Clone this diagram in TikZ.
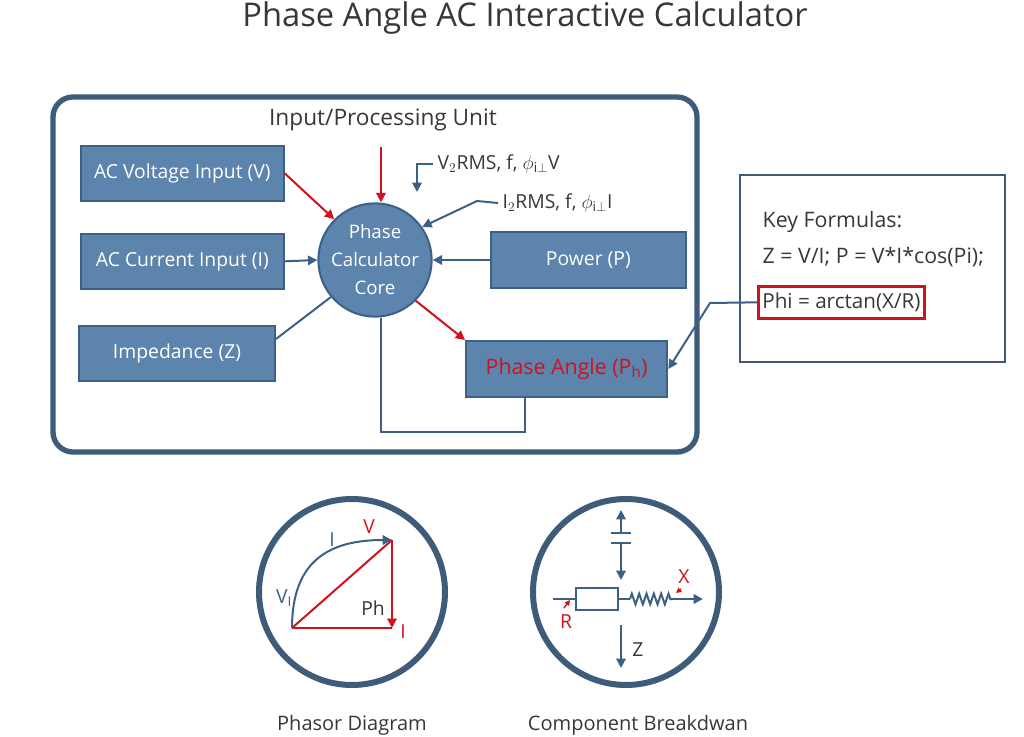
\documentclass[tikz,border=0pt]{standalone}
\usepackage{fontspec}
\setmainfont{Open Sans}
\usetikzlibrary{arrows.meta, positioning, decorations.pathmorphing}
\definecolor{framedark}{RGB}{62,92,122}
\definecolor{boxfill}{RGB}{92,132,172}
\definecolor{boxline}{RGB}{60,96,134}
\definecolor{calcred}{RGB}{208,18,28}
\definecolor{textgray}{RGB}{55,55,55}
\tikzset{
  unitbox/.style={draw=boxline, fill=boxfill, line width=1.5pt, text=white, font=\fontsize{14.5}{17}\selectfont, anchor=north west, inner sep=0pt},
  bluearrow/.style={draw=boxline, line width=1.5pt, -{Triangle[length=7pt,width=7pt]}},
  redarrow/.style={draw=calcred, line width=1.5pt, -{Triangle[length=7pt,width=7pt]}},
  ring/.style={draw=framedark, line width=4.5pt, circle, minimum size=139.5pt, inner sep=0pt},
  lbl/.style={text=textgray, font=\fontsize{14.5}{17}\selectfont}
}
\begin{document}
\begin{tikzpicture}[x=0.75pt, y=-0.75pt]
  \useasboundingbox (0,0) rectangle (1024,737);
  \node[text=textgray, font=\fontsize{24.5}{29}\selectfont] (title) at (525,18) {Phase Angle AC Interactive Calculator};
  %processing unit
  \draw[draw=framedark, line width=4pt, rounded corners=15pt] (53,97) rectangle (697,452);
  \node[text=textgray, font=\fontsize{17}{20}\selectfont] (unit) at (383,120) {Input/Processing Unit};
  \node[unitbox, minimum width=152pt, minimum height=41pt] (volt) at (80,145) {AC Voltage Input (V)};
  \node[unitbox, minimum width=152pt, minimum height=41pt] (curr) at (80,233) {AC Current Input (I)};
  \node[unitbox, minimum width=147pt, minimum height=41pt] (imp) at (78,325) {Impedance (Z)};
  \node[unitbox, minimum width=146pt, minimum height=42pt] (power) at (490,231) {Power (P)};
  \node[unitbox, minimum width=151pt, minimum height=42pt, text=calcred, font=\fontsize{16}{19}\selectfont] (phase) at (465,340) {Phase Angle (P$_{\mathrm{h}}$)};
  \node[circle, draw=boxline, fill=boxfill, line width=1.5pt, minimum size=85pt, inner sep=0pt, text=white, align=center, font=\fontsize{14}{21}\selectfont] (core) at (375,260) {Phase\\Calculator\\Core};
  %labels
  \node[lbl, anchor=west] (vrms) at (433,164) {V$_2$RMS, f, $\phi_{\mathrm{i}\perp}$V};
  \node[lbl, anchor=west] (irms) at (498,203) {I$_2$RMS, f, $\phi_{\mathrm{i}\perp}$I};
  \coordinate (redtop) at (381,147);
  \draw[redarrow] (redtop) -- (core.north -| redtop);
  \draw[redarrow] (volt.east) -- (core.135);
  \draw[redarrow] (core.-45) -- (phase.north west);
  \draw[bluearrow] (vrms.west) -- (417,164) -- (417,192);
  \draw[bluearrow] (irms.west) -- (477,201) -- (core.35);
  \draw[bluearrow] (curr.east) -- (core.west);
  \draw[bluearrow] (power.west) -- (core.east);
  \draw[draw=boxline, line width=1.5pt] (imp.north east) ++(0,14) -- (core.220);
  \draw[draw=boxline, line width=1.5pt] (core.south -| redtop) -- (381,432) -- (525,432) -- (phase.south -| 525,0);
  %formulas
  \draw[draw=framedark, line width=2.2pt] (740,175) rectangle (1005,362);
  \node[lbl, anchor=west, font=\fontsize{16}{19}\selectfont] (keyf) at (758,222) {Key Formulas:};
  \node[lbl, anchor=west, font=\fontsize{16}{19}\selectfont] (zf) at (758,257) {Z = V/I; P = V*I*cos(Pi);};
  \node[anchor=north west, draw=calcred, line width=2pt, minimum width=123pt, minimum height=24pt, inner sep=3pt, text=textgray, font=\fontsize{15.5}{18}\selectfont] (phif) at (757,285) {Phi = arctan(X/R)};
  \draw[bluearrow] (phif.west) -- (710,303) -- (phase.east);
  %phasor diagram
  \node[ring] (phasor) at (352,592) {};
  \node[ring] (comp) at (626,592) {};
  \node[lbl, font=\fontsize{15}{18}\selectfont] (phasorlbl) at (352,725) {Phasor Diagram};
  \node[lbl, font=\fontsize{15}{18}\selectfont] (complbl) at (638,725) {Component Breakdwan};
  \coordinate (orig) at (292,628);
  \coordinate (vtip) at (392,540);
  \coordinate (itip) at (392,628);
  \draw[calcred, line width=1.5pt] (orig) -- (vtip);
  \draw[calcred, line width=1.5pt] (orig) -- (itip);
  \draw[redarrow] (vtip) -- (itip);
  \draw[bluearrow] (orig) .. controls (292,560) and (330,540) .. (vtip);
  \node[lbl, text=boxline] (li) at (332,540) {I};
  \node[lbl, text=calcred] (lv) at (369,527) {V};
  \node[lbl, text=boxline] (lvi) at (284,598) {V$_{\mathrm{I}}$};
  \node[lbl] (lph) at (373,608) {Ph};
  \node[lbl, text=calcred] (lii) at (403,632) {I};
  %component breakdown
  \draw[bluearrow] (621,533) -- (621,510);
  \draw[boxline, line width=1.5pt] (611,533) -- (631,533) (611,543) -- (631,543);
  \draw[bluearrow] (621,543) -- (621,580);
  \node[draw=boxline, line width=1.5pt, minimum width=31pt, minimum height=17pt, inner sep=0pt] (res) at (597,599) {};
  \draw[boxline, line width=1.5pt] (553,599) -- (res.west);
  \draw[boxline, line width=1.5pt] (res.east) -- (630,599);
  \draw[boxline, line width=1.5pt, decorate, decoration={zigzag, amplitude=4pt, segment length=5.5pt}] (630,599) -- (672,599);
  \draw[bluearrow] (672,599) -- (703,599);
  \node[lbl, text=calcred] (lr) at (566,622) {R};
  \draw[calcred, line width=1pt, -{Triangle[length=4pt,width=4pt]}] (564,608) -- (570,600);
  \node[lbl, text=calcred] (lx) at (684,577) {X};
  \draw[calcred, line width=1pt, -{Triangle[length=4pt,width=4pt]}] (681,589) -- (676,593);
  \draw[bluearrow] (621,625) -- (621,668);
  \node[lbl] (lz) at (638,650) {Z};
\end{tikzpicture}
\end{document}
